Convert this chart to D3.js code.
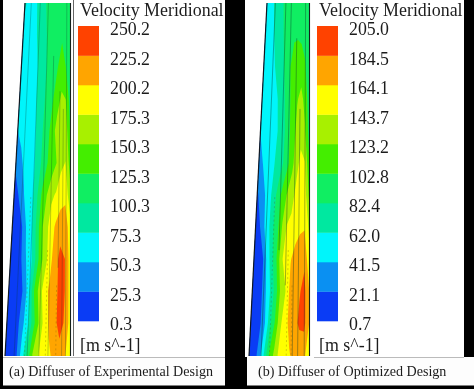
<!DOCTYPE html>
<html><head><meta charset="utf-8">
<script src="https://cdn.jsdelivr.net/npm/d3@7"></script>
<style>html,body{margin:0;padding:0;background:#000;overflow:hidden}svg{display:block;filter:blur(.45px)}text{font-family:"Liberation Serif",serif;fill:#1c1c1c}</style>
</head><body><svg id="c" width="474" height="389"></svg>
<script>
const legendTitle = "Velocity Meridional";
const legendUnit = "[m s^-1]";
const bandColors = ["#0a3cf5","#0a90f2","#00f5fb","#00e8a0","#10ee62","#44ee00","#a8f000","#ffff00","#ffa500","#ff4200"];
const ticksA = [0.3,25.3,50.3,75.3,100.3,125.3,150.3,175.3,200.2,225.2,250.2];
const ticksB = [0.7,21.1,41.5,62.0,82.4,102.8,123.2,143.7,164.1,184.5,205.0];
const captionA = "(a) Diffuser of Experimental Design";
const captionB = "(b) Diffuser of Optimized Design";
// Velocity: rows top to bottom, columns from inner wall to outer wall
const fieldA = [
[78,72,68,72,85,95,103,108,112,114,116,112,105],
[70,66,65,70,80,92,100,105,112,118,122,118,105],
[60,64,66,68,75,85,98,108,115,125,135,125,110],
[54,62,65,68,75,88,100,115,125,140,155,150,115],
[50,56,60,65,73,90,104,120,140,160,172,165,125],
[28,45,56,62,72,90,108,125,135,150,170,176,140],
[18,26,48,65,73,100,130,150,170,178,188,192,160],
[14,18,24,55,72,105,143,165,188,204,215,218,185],
[12,14,20,48,65,100,138,165,192,215,232,225,190],
[8,10,15,30,72,128,160,190,205,217,232,225,190],
[8,10,18,45,72,115,150,182,203,217,235,222,190],
[10,12,20,60,103,150,172,190,197,205,215,205,175]];
const fieldB = [
[62,60,62,68,75,85,92,95,98,98,96,92,82],
[58,58,60,65,72,82,92,98,100,100,98,95,82],
[50,55,58,62,68,78,90,102,112,118,115,105,85],
[45,50,55,58,62,72,85,100,112,122,128,118,90],
[42,46,50,55,60,68,82,98,115,128,135,125,95],
[32,42,48,55,64,70,85,100,118,135,150,145,105],
[18,30,44,58,75,95,112,126,135,150,160,155,120],
[14,21,42,60,82,100,125,145,150,155,160,162,140],
[12,14,21,52,78,105,140,155,163,172,178,181,150],
[10,12,20,45,68,95,128,143,170,176,183,190,165],
[8,10,20,43,78,105,137,158,168,178,188,190,165],
[10,12,30,65,105,128,150,157,163,168,172,170,145]];
// Streamlines: position across the channel, start and end height as fractions
const streamsA = [[0.14,0,1],[0.34,0,1],[0.52,0,1],[0.66,0.15,1],[0.8,0.25,0.75],[0.87,0.3,1],[0.93,0,1]];
const streamsB = [[0.2,0,1],[0.45,0,0.7],[0.58,0,0.8],[0.72,0.1,1],[0.81,0.3,1],[0.92,0,1]];
const dottedA = [[0.3,0.55,1],[0.62,0.7,1],[0.78,0.8,1]];
const dottedB = [[0.34,0.55,1],[0.62,0.7,1],[0.7,0.8,1]];

const svg = d3.select("#c");
function panel(o){
  const g = svg.append("g");
  g.append("rect").attr("x",o.px0).attr("y",0).attr("width",o.px1-o.px0).attr("height",357).attr("fill","#fff");
  g.append("rect").attr("x",o.cx0).attr("y",357).attr("width",o.cx1-o.cx0).attr("height",28.5).attr("fill","#fdfdfd");
  g.append("line").attr("x1",o.lineX).attr("x2",o.px1).attr("y1",357.5).attr("y2",357.5).attr("stroke","#bbb");
  const rows=o.field.length, cols=o.field[0].length;
  const y = d3.scaleLinear().domain([0.5,rows-0.5]).range([3,355]);
  const yOf = d3.scaleLinear().domain([0,1]).range([3,356]);
  const leftAt = d3.scaleLinear().domain([3,356]).range([o.l0,o.l1]);
  const u = d3.scaleLinear().domain([0.5,cols-0.5]).range([0,1]);
  const xPos = (uu,py)=> leftAt(py)+uu*(o.r-leftAt(py));
  const proj = d3.geoTransform({point(px,py){const yy=y(py);this.stream.point(xPos(u(px),yy),yy);}});
  const path = d3.geoPath(proj);
  const cid="w"+o.id;
  svg.append("clipPath").attr("id",cid).append("polygon")
    .attr("points",[[o.l0,3],[o.r,3],[o.r,356],[o.l1,356]].join(" "));
  const field = g.append("g").attr("clip-path",`url(#${cid})`);
  const cg = d3.contours().size([cols,rows]).smooth(true).thresholds(o.ticks.slice(0,-1))(o.field.flat());
  field.append("rect").attr("x",o.l1).attr("y",3).attr("width",o.r-o.l1).attr("height",353).attr("fill",bandColors[0]);
  field.selectAll("path.b").data(cg).join("path").attr("class","b")
    .attr("d",path).attr("fill",(d,i)=>bandColors[Math.min(i,9)]);
  const ln = d3.line().x(d=>xPos(d[0],d[1])).y(d=>d[1]);
  field.selectAll("path.s").data(o.streams).join("path").attr("class","s")
    .attr("d",d=>ln([[d[0],yOf(d[1])],[d[0],yOf(d[2])]]))
    .attr("fill","none").attr("stroke","#0a3a2a").attr("stroke-opacity",o.sop).attr("stroke-width",.8);
  field.selectAll("path.d").data(o.dotted).join("path").attr("class","d")
    .attr("d",d=>ln([[d[0],yOf(d[1])],[d[0],yOf(d[2])]]))
    .attr("fill","none").attr("stroke","#5a4a10").attr("stroke-opacity",.3).attr("stroke-width",.9).attr("stroke-dasharray","2 2.5");
  // walls
  g.append("line").attr("x1",o.l0).attr("y1",3).attr("x2",o.l1).attr("y2",356).attr("stroke","#101820").attr("stroke-width",1.2);
  g.append("line").attr("x1",o.r+.5).attr("y1",3).attr("x2",o.r+.5).attr("y2",356).attr("stroke","#15201c").attr("stroke-width",1.1);
  if(o.wall2) g.append("line").attr("x1",o.wall2).attr("y1",0).attr("x2",o.wall2).attr("y2",356).attr("stroke","#555").attr("stroke-width",.9);
  // legend
  const ly = d3.scaleLinear().domain([0,10]).range([321,26]);
  g.selectAll("rect.k").data(bandColors).join("rect").attr("class","k")
    .attr("x",o.bx).attr("width",21).attr("y",(d,i)=>ly(i+1)).attr("height",(d,i)=>ly(i)-ly(i+1)+.3).attr("fill",d=>d);
  g.selectAll("text.t").data(o.ticks).join("text").attr("class","t")
    .attr("x",o.bx+32).attr("y",(d,i)=>ly(i)+9).attr("font-size",17.8)
    .text(d=>d.toFixed(1));
  g.append("text").attr("x",o.bx+2).attr("y",16.2).attr("font-size",17.9).text(legendTitle);
  g.append("text").attr("x",o.bx+2).attr("y",351).attr("font-size",17.9).text(legendUnit);
  g.append("text").attr("x",o.capX).attr("y",376).attr("font-size",14.1).text(o.caption);
}
panel({id:"a",px0:3,px1:225,cx0:3,cx1:225,lineX:3,l0:25,l1:5,r:70,wall2:73.5,bx:78,field:fieldA,ticks:ticksA,streams:streamsA,dotted:dottedA,sop:.35,caption:captionA,capX:9});
panel({id:"b",px0:245,px1:464,cx0:247,cx1:474,lineX:314,l0:267,l1:249,r:309,wall2:null,bx:317,field:fieldB,ticks:ticksB,streams:streamsB,dotted:dottedB,sop:.5,caption:captionB,capX:258});
</script></body></html>
